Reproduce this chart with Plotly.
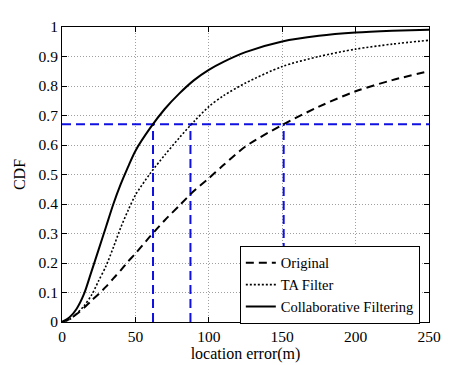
import plotly.graph_objects as go

x_vals = [0, 5, 10, 15, 20, 25, 30, 35, 40, 45, 50, 60, 70, 80, 90, 100, 110, 125, 150, 175, 200, 225, 250]
original = [0, 0.01, 0.027, 0.048, 0.072, 0.095, 0.12, 0.148, 0.175, 0.205, 0.232, 0.29, 0.345, 0.395,
            0.445, 0.487, 0.532, 0.595, 0.668, 0.73, 0.782, 0.82, 0.85]
ta_filter = [0, 0.008, 0.028, 0.055, 0.09, 0.14, 0.19, 0.253, 0.32, 0.378, 0.43, 0.503, 0.566, 0.625,
             0.68, 0.73, 0.767, 0.81, 0.866, 0.9, 0.925, 0.942, 0.955]
collab = [0, 0.015, 0.045, 0.095, 0.17, 0.246, 0.323, 0.4, 0.467, 0.526, 0.58, 0.657, 0.722, 0.775,
          0.82, 0.855, 0.882, 0.915, 0.951, 0.97, 0.981, 0.987, 0.991]

ref_level = 0.67
ref_x = [62, 87.5, 151]
x_range = [0, 250]

x_ticks = [0, 50, 100, 150, 200, 250]
y_ticks = [0, 0.1, 0.2, 0.3, 0.4, 0.5, 0.6, 0.7, 0.8, 0.9, 1]
y_tick_text = ["0", "0.1", "0.2", "0.3", "0.4", "0.5", "0.6", "0.7", "0.8", "0.9", "1"]

FONT = "Liberation Serif"
blue = "#1010e0"

fig = go.Figure()

# reference blue dashed lines
fig.add_trace(go.Scatter(x=x_range, y=[ref_level, ref_level], mode="lines",
                         line=dict(color=blue, width=2, dash="9px,5px"),
                         showlegend=False, hoverinfo="skip"))
for rx in ref_x:
    fig.add_trace(go.Scatter(x=[rx, rx], y=[0, ref_level], mode="lines",
                             line=dict(color=blue, width=2, dash="9px,5px"),
                             showlegend=False, hoverinfo="skip"))

fig.add_trace(go.Scatter(x=x_vals, y=original, mode="lines", name="Original",
                         line=dict(color="black", width=2, dash="8px,5px", shape="spline", smoothing=0.8)))
fig.add_trace(go.Scatter(x=x_vals, y=ta_filter, mode="lines", name="TA Filter",
                         line=dict(color="black", width=1.6, dash="2px,2px", shape="spline", smoothing=0.8)))
fig.add_trace(go.Scatter(x=x_vals, y=collab, mode="lines", name="Collaborative Filtering",
                         line=dict(color="black", width=2, shape="spline", smoothing=0.8)))

axis_common = dict(showline=True, linecolor="black", linewidth=1, mirror="ticks",
                   ticks="inside", ticklen=5, tickcolor="black", automargin=False,
                   showgrid=True, gridcolor="#a0a0a0", griddash="1px,2px", gridwidth=1,
                   zeroline=False, tickfont=dict(family=FONT, size=15.5, color="black"))

fig.update_xaxes(range=x_range, tickvals=x_ticks,
                 title=dict(text="location error(m)", font=dict(family=FONT, size=16, color="black"), standoff=4),
                 **axis_common)
fig.update_yaxes(range=[0, 1], tickvals=y_ticks, ticktext=y_tick_text,
                 title=dict(text="CDF", font=dict(family=FONT, size=16, color="black"), standoff=8),
                 **axis_common)

fig.update_layout(
    width=466, height=357,
    margin=dict(l=54, r=45, t=19, b=43, autoexpand=False),
    paper_bgcolor="white", plot_bgcolor="white",
    font=dict(family=FONT, size=15, color="black"),
    legend=dict(x=0.975, y=0.126, xanchor="right", yanchor="middle",
                bgcolor="white", bordercolor="black", borderwidth=1,
                font=dict(family=FONT, size=14.5, color="black"),
                tracegroupgap=0, itemwidth=30),
)

fig.write_html("out.html")
